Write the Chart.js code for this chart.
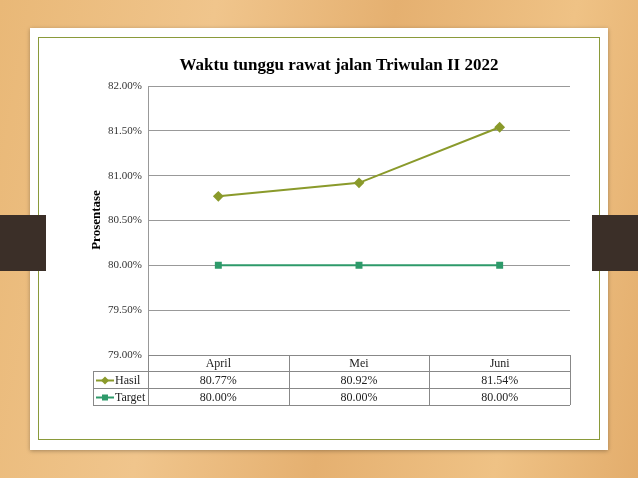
<!DOCTYPE html>
<html><head><meta charset="utf-8">
<script src="https://cdn.jsdelivr.net/npm/chart.js@4"></script>
<style>
html,body{margin:0;padding:0;width:638px;height:478px;overflow:hidden;}
body{background:linear-gradient(100deg,#e9b877 0%,#f0c58c 30%,#e5b070 55%,#efc285 80%,#e3ad6c 100%);position:relative;font-family:"Liberation Serif",serif;}
#card{position:absolute;left:30px;top:28px;width:578px;height:422px;background:#fff;box-shadow:0 1px 4px rgba(0,0,0,.3);}
#inner{position:absolute;left:38px;top:37px;width:560px;height:401px;border:1.5px solid #8a9a3a;}
.tab{position:absolute;top:215px;width:46px;height:56px;background:#3b2f28;}
#c{position:absolute;left:0;top:0;}
</style></head><body>
<div id="card"></div><div id="inner"></div>
<div class="tab" style="left:0"></div><div class="tab" style="left:592px"></div>
<canvas id="c" width="638" height="478"></canvas>
<script>
const categories=["April","Mei","Juni"];
const hasil=[80.77,80.92,81.54];
const target=[80.00,80.00,80.00];
const seriesNames=["Hasil","Target"];
const colors=["#8a9a2b","#2e9a6a"];
const title="Waktu tunggu rawat jalan Triwulan II 2022";
const fmt=v=>v.toFixed(2)+"%";
const tablePlugin={id:"tbl",afterDraw(ch){
 const c=ch.ctx,a=ch.chartArea,x=ch.scales.x;
 c.save();
 c.fillStyle="#000";c.font="bold 17px 'Liberation Serif'";c.textAlign="center";c.textBaseline="middle";
 c.fillText(title,(a.left+a.right)/2-20,66);
 c.save();c.translate(97,220);c.rotate(-Math.PI/2);c.font="bold 13px 'Liberation Serif'";c.fillText("Prosentase",0,0);c.restore();
 const rows=[a.bottom,a.bottom+16,a.bottom+33,a.bottom+50];
 const colW=(a.right-a.left)/3;
 c.strokeStyle="#888";c.lineWidth=1;
 c.beginPath();
 c.moveTo(a.left,rows[0]+.5);c.lineTo(a.right,rows[0]+.5);
 for(let i=1;i<4;i++){c.moveTo(93,rows[i]+.5);c.lineTo(a.right,rows[i]+.5);}
 c.moveTo(93.5,rows[1]);c.lineTo(93.5,rows[3]);
 for(let i=0;i<=3;i++){const xx=Math.round(a.left+i*colW)+.5;c.moveTo(xx,rows[0]);c.lineTo(xx,rows[3]);}
 c.stroke();
 c.font="12px 'Liberation Serif'";c.fillStyle="#222";
 categories.forEach((k,i)=>c.fillText(k,x.getPixelForValue(i),(rows[0]+rows[1])/2+1));
 [hasil,target].forEach((d,r)=>{
  const ym=(rows[r+1]+rows[r+2])/2+1;
  d.forEach((v,i)=>c.fillText(fmt(v),x.getPixelForValue(i),ym));
  c.strokeStyle=colors[r];c.lineWidth=2;c.beginPath();c.moveTo(96,ym);c.lineTo(114,ym);c.stroke();
  c.fillStyle=colors[r];c.beginPath();
  if(r==0){c.moveTo(105,ym-4);c.lineTo(109,ym);c.lineTo(105,ym+4);c.lineTo(101,ym);c.closePath();}
  else c.rect(102,ym-3,6,6);
  c.fill();c.fillStyle="#222";c.textAlign="left";c.fillText(seriesNames[r],115,ym);c.textAlign="center";
 });
 c.restore();
}};
new Chart(document.getElementById("c"),{type:"line",
 data:{labels:categories,datasets:[
  {label:seriesNames[0],data:hasil,borderColor:colors[0],backgroundColor:colors[0],borderWidth:2,pointStyle:"rectRot",pointRadius:4},
  {label:seriesNames[1],data:target,borderColor:colors[1],backgroundColor:colors[1],borderWidth:2,pointStyle:"rect",pointRadius:3.5}]},
 options:{responsive:false,animation:false,
  layout:{padding:{left:93,right:68,top:86,bottom:115}},
  plugins:{legend:{display:false},title:{display:false},tooltip:{enabled:false}},
  scales:{
   x:{offset:true,ticks:{display:false},grid:{display:false},border:{display:false}},
   y:{min:79,max:82,afterFit(s){s.width=55;},
    ticks:{stepSize:0.5,callback:v=>fmt(v),font:{family:"Liberation Serif",size:11},color:"#333",padding:6},
    grid:{color:"#999",drawTicks:false},border:{color:"#999"}}}},
 plugins:[tablePlugin]});
</script></body></html>
